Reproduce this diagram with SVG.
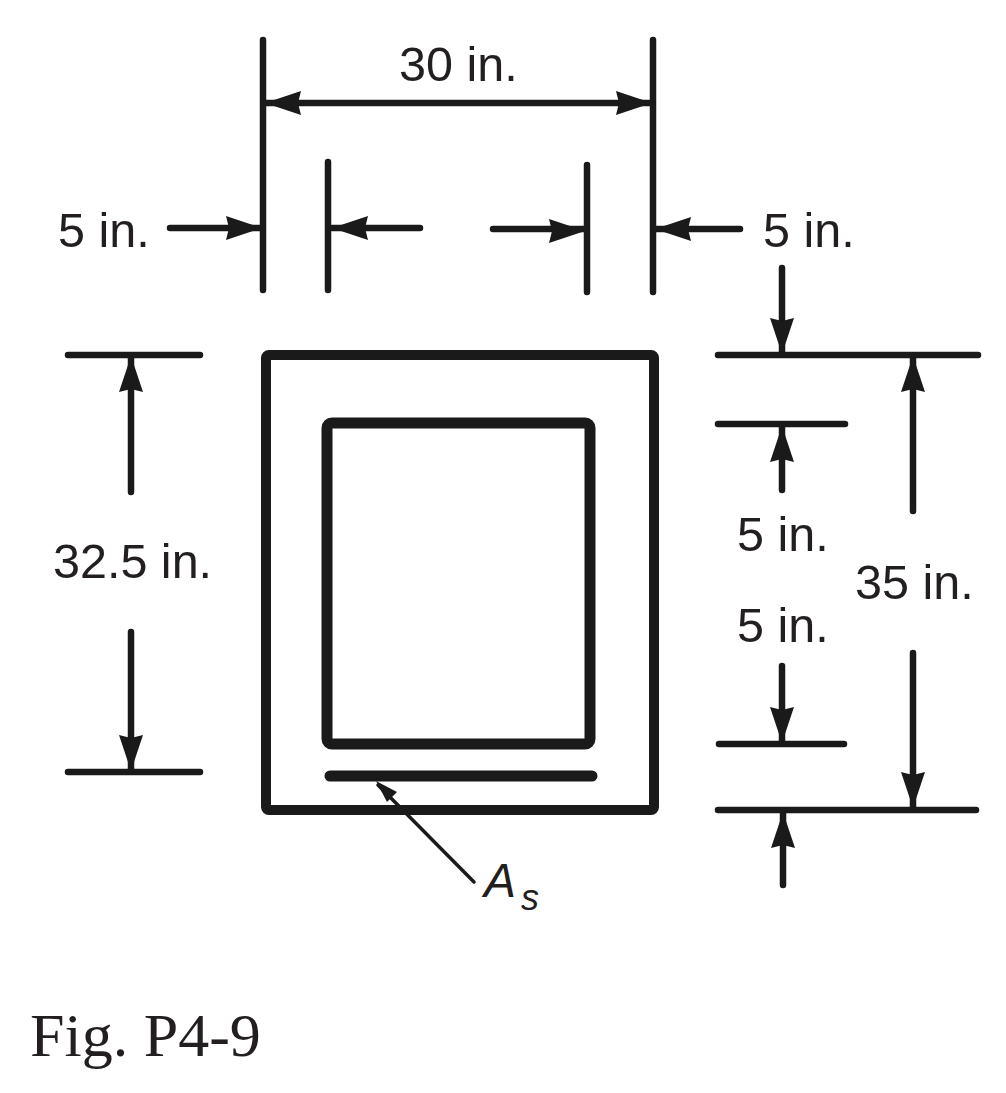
<svg xmlns="http://www.w3.org/2000/svg" width="1006" height="1093" viewBox="0 0 1006 1093">
<style>
.l{stroke:#1a1a1a;fill:none;stroke-linecap:round;stroke-linejoin:round}
.t{font-family:"Liberation Sans",Arial,sans-serif;font-size:48.5px;fill:#231f20}
.i{font-family:"Liberation Sans",Arial,sans-serif;font-style:italic;fill:#231f20}
.h{fill:#1a1a1a;stroke:none}
</style>
<defs>
<path id="ar" class="h" d="M0 0L-36 -12L-33 0L-36 12Z"/>
</defs>
<rect width="1006" height="1093" fill="#fff"/>
<g id="section">
<rect class="l" x="266" y="355" width="388" height="455" rx="3" stroke-width="10"/>
<rect class="l" x="327" y="423" width="263" height="321" rx="5" stroke-width="11"/>
<line class="l" x1="330" y1="776" x2="592" y2="776" stroke-width="11"/>
</g>
<g id="connectors">
<g class="l" stroke-width="6.5">
<path d="M263 40V290M653 40V292M328 162V290M587 165V292"/>
<path d="M265 103H652"/>
<path d="M170 228H262M332 228H420M493 229H585M655 229H740"/>
<path d="M68 355H200M68 772H200M718 355H978M718 424H845M719 744H844M718 810H976"/>
<path d="M131 358V492M131 632V770M782 268V353M782 426V490M782 666V742M783 812V885M913 358V511M913 653V808"/>
</g>
<path class="l" d="M378 785L474 882" stroke-width="3.5"/>
<use href="#ar" transform="translate(265 103) rotate(180)"/>
<use href="#ar" transform="translate(652 103)"/>
<use href="#ar" transform="translate(262 228)"/>
<use href="#ar" transform="translate(332 228) rotate(180)"/>
<use href="#ar" transform="translate(585 231)"/>
<use href="#ar" transform="translate(655 229) rotate(180)"/>
<use href="#ar" transform="translate(131 356) rotate(-90)"/>
<use href="#ar" transform="translate(131 771) rotate(90)"/>
<use href="#ar" transform="translate(782 354) rotate(90)"/>
<use href="#ar" transform="translate(782 426) rotate(-90)"/>
<use href="#ar" transform="translate(782 743) rotate(90)"/>
<use href="#ar" transform="translate(783 812) rotate(-90)"/>
<use href="#ar" transform="translate(913 356) rotate(-90)"/>
<use href="#ar" transform="translate(913 808) rotate(90)"/>
<path class="h" d="M376 781L397 792L387 802Z"/>
</g>
<g id="labels">
<text class="t" x="399" y="81">30 in.</text>
<text class="t" x="58" y="247">5 in.</text>
<text class="t" x="763" y="247">5 in.</text>
<text class="t" x="53" y="578">32.5 in.</text>
<text class="t" x="737" y="551">5 in.</text>
<text class="t" x="737" y="642">5 in.</text>
<text class="t" x="855" y="599">35 in.</text>
<text class="i" x="484" y="897" font-size="48">A</text>
<text class="i" x="521" y="910" font-size="36">s</text>
<text x="30" y="1056" font-family="'Liberation Serif','Times New Roman',serif" font-size="62" fill="#231f20">Fig. P4-9</text>
</g>
</svg>
